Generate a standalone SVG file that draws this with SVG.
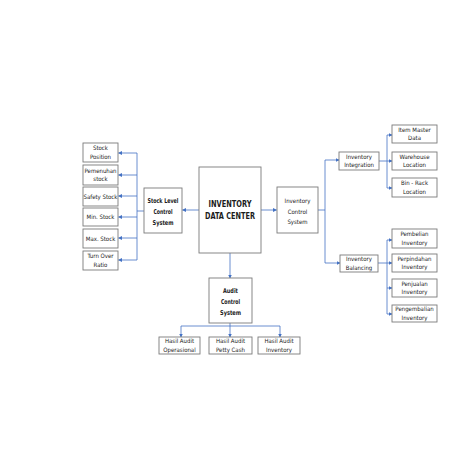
<svg xmlns="http://www.w3.org/2000/svg" width="452" height="452" viewBox="0 0 452 452">
<defs>
<marker id="ah" markerWidth="4" markerHeight="4" refX="3.5" refY="2" orient="auto" markerUnits="userSpaceOnUse"><path d="M0,0 L4,2 L0,4 z" fill="#4472C4"/></marker>
<style>
.b{fill:#fff;stroke:#7a7a7a;stroke-width:0.9}
.c{fill:none;stroke:#4472C4;stroke-width:0.8}
.a{marker-end:url(#ah)}
text{font-family:"Liberation Sans Narrow","DejaVu Sans Condensed","Liberation Sans",sans-serif;fill:#1a1a1a;text-anchor:middle}
.s{font-size:6px}
.m{font-size:6.6px;font-weight:bold}
.l{font-size:9px;font-weight:bold}
</style>
</defs>
<rect width="452" height="452" fill="#fff"/>
<g id="connectors">
<path class="c a" d="M199,210 H182.5"/>
<path class="c a" d="M261,210 H276.5"/>
<path class="c a" d="M230,253 V278"/>
<path class="c" d="M144,211 H137 M137,153 V260"/>
<path class="c a" d="M137,153 H118.5"/>
<path class="c a" d="M137,175 H118.5"/>
<path class="c a" d="M137,196 H118.5"/>
<path class="c a" d="M137,217 H118.5"/>
<path class="c a" d="M137,238 H118.5"/>
<path class="c a" d="M137,260 H118.5"/>
<path class="c" d="M318,210 H325 M325,160 V263"/>
<path class="c a" d="M325,160 H339"/>
<path class="c a" d="M325,263 H340"/>
<path class="c" d="M379,161 H387 M387,135 V188"/>
<path class="c a" d="M387,135 H392"/>
<path class="c a" d="M387,161 H392"/>
<path class="c a" d="M387,188 H392"/>
<path class="c" d="M378,263 H387 M387,240 V314"/>
<path class="c a" d="M387,240 H392"/>
<path class="c a" d="M387,263 H392"/>
<path class="c a" d="M387,288 H392"/>
<path class="c a" d="M387,314 H392"/>
<path class="c" d="M230,323 V326 M181,326 H280"/>
<path class="c a" d="M181,326 V337"/>
<path class="c a" d="M230,326 V337"/>
<path class="c a" d="M280,326 V337"/>
</g>
<g id="data-center"><rect class="b" x="199" y="167" width="62" height="86"/><text class="l" x="230" y="206.5" textLength="43" lengthAdjust="spacingAndGlyphs">INVENTORY</text><text class="l" x="230" y="218.5" textLength="50" lengthAdjust="spacingAndGlyphs">DATA CENTER</text></g>
<g id="stock-level"><rect class="b" x="144" y="188" width="38" height="45"/><text class="m" x="163" y="202.5" textLength="31" lengthAdjust="spacingAndGlyphs">Stock Level</text><text class="m" x="163" y="213.5" textLength="19" lengthAdjust="spacingAndGlyphs">Control</text><text class="m" x="163" y="224.5" textLength="21" lengthAdjust="spacingAndGlyphs">System</text></g>
<g id="inv-control"><rect class="b" x="277" y="187" width="41" height="46"/><text class="s" x="297.5" y="203">Inventory</text><text class="s" x="297.5" y="213.5">Control</text><text class="s" x="297.5" y="224">System</text></g>
<g id="audit"><rect class="b" x="209" y="278" width="43" height="45"/><text class="m" x="230.5" y="292.5" textLength="15" lengthAdjust="spacingAndGlyphs">Audit</text><text class="m" x="230.5" y="303.5" textLength="19" lengthAdjust="spacingAndGlyphs">Control</text><text class="m" x="230.5" y="314.5" textLength="21" lengthAdjust="spacingAndGlyphs">System</text></g>
<g id="stock-position"><rect class="b" x="83" y="143" width="35" height="19"/><text class="s" x="100.5" y="150.3">Stock</text><text class="s" x="100.5" y="158.8">Position</text></g>
<g id="pemenuhan"><rect class="b" x="83" y="165" width="35" height="20"/><text class="s" x="100.5" y="172.8">Pemenuhan</text><text class="s" x="100.5" y="181.3">stock</text></g>
<g id="safety"><rect class="b" x="83" y="187" width="35" height="19"/><text class="s" x="100.5" y="198.6">Safety Stock</text></g>
<g id="min"><rect class="b" x="83" y="208" width="35" height="18"/><text class="s" x="100.5" y="219.1">Min. Stock</text></g>
<g id="max"><rect class="b" x="83" y="229" width="35" height="19"/><text class="s" x="100.5" y="240.6">Max. Stock</text></g>
<g id="turnover"><rect class="b" x="83" y="251" width="35" height="19"/><text class="s" x="100.5" y="258.3">Turn Over</text><text class="s" x="100.5" y="266.8">Ratio</text></g>
<g id="integration"><rect class="b" x="339" y="152" width="40" height="18"/><text class="s" x="359" y="158.8">Inventory</text><text class="s" x="359" y="167.3">Integration</text></g>
<g id="balancing"><rect class="b" x="340" y="255" width="38" height="17"/><text class="s" x="359" y="261.3">Inventory</text><text class="s" x="359" y="269.8">Balancing</text></g>
<g id="item-master"><rect class="b" x="392" y="125" width="45" height="18"/><text class="s" x="414.5" y="131.8">Item Master</text><text class="s" x="414.5" y="140.3">Data</text></g>
<g id="warehouse"><rect class="b" x="392" y="152" width="45" height="18"/><text class="s" x="414.5" y="158.8">Warehouse</text><text class="s" x="414.5" y="167.3">Location</text></g>
<g id="bin-rack"><rect class="b" x="392" y="178" width="45" height="19"/><text class="s" x="414.5" y="185.3">Bin - Rack</text><text class="s" x="414.5" y="193.8">Location</text></g>
<g id="pembelian"><rect class="b" x="392" y="229" width="45" height="19"/><text class="s" x="414.5" y="236.3">Pembelian</text><text class="s" x="414.5" y="244.8">Inventory</text></g>
<g id="perpindahan"><rect class="b" x="392" y="254" width="45" height="18"/><text class="s" x="414.5" y="260.8">Perpindahan</text><text class="s" x="414.5" y="269.3">Inventory</text></g>
<g id="penjualan"><rect class="b" x="392" y="279" width="45" height="18"/><text class="s" x="414.5" y="285.8">Penjualan</text><text class="s" x="414.5" y="294.3">Inventory</text></g>
<g id="pengembalian"><rect class="b" x="392" y="305" width="45" height="17"/><text class="s" x="414.5" y="311.3">Pengembalian</text><text class="s" x="414.5" y="319.8">Inventory</text></g>
<g id="audit-operasional"><rect class="b" x="159" y="337" width="41" height="17"/><text class="s" x="179.5" y="343.3">Hasil Audit</text><text class="s" x="179.5" y="351.8">Operasional</text></g>
<g id="audit-petty"><rect class="b" x="209" y="337" width="43" height="17"/><text class="s" x="230.5" y="343.3">Hasil Audit</text><text class="s" x="230.5" y="351.8">Petty Cash</text></g>
<g id="audit-inventory"><rect class="b" x="258" y="337" width="42" height="17"/><text class="s" x="279" y="343.3">Hasil Audit</text><text class="s" x="279" y="351.8">Inventory</text></g>
</svg>
